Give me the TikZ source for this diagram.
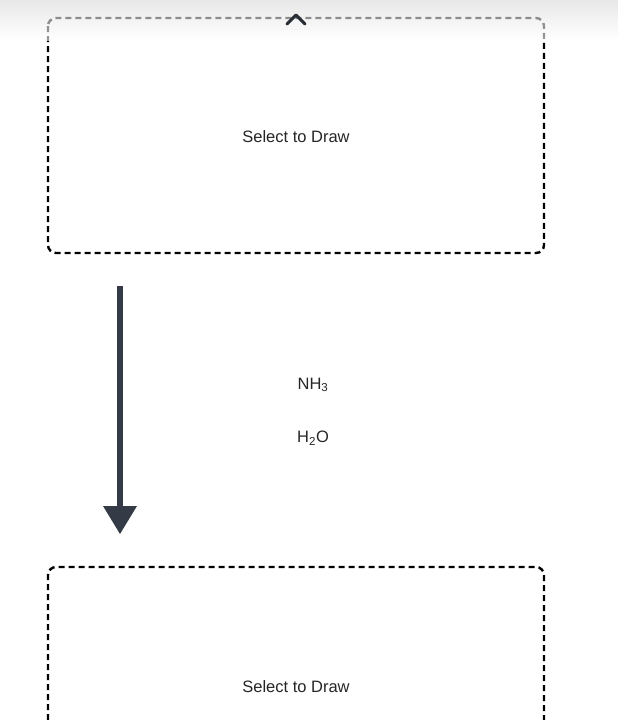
\documentclass[tikz,border=0pt]{standalone}
\usepackage{fontspec}
\setmainfont{Liberation Sans}
\begin{document}
\begin{tikzpicture}[x=1pt,y=-1pt,
  box/.style={draw=black,line width=2.4pt,dash pattern=on 6pt off 4pt,rounded corners=8pt},
  lbl/.style={font=\fontsize{16.5}{19}\selectfont,text=black!85}]
\useasboundingbox (0,0) rectangle (618,720);
\draw[box] (48,18) rectangle (544,253);
\draw[box] (48,740) -- (48,567) -- (544,567) -- (544,740);
\node[lbl] (t1) at (296,137) {Select to Draw};
\node[lbl] (t2) at (296,687) {Select to Draw};
\node[lbl] (n) at (313,385) {NH\textsubscript{3}};
\node[lbl] (h) at (313,438) {H\textsubscript{2}O};
\coordinate (a1) at (120,286);
\coordinate (a2) at (120,510);
\coordinate (a3) at (120,534);
\draw[line width=6pt,color={rgb,255:red,52;green,58;blue,70}] (a1) -- (a2);
\fill[color={rgb,255:red,52;green,58;blue,70}] (103,506) -- (137,506) -- (a3) -- cycle;
\shade[top color=gray!30,bottom color=white,fill opacity=0.6] (0,0) rectangle (618,40);
\coordinate (c) at (296,15);
\draw[line width=3pt,color={rgb,255:red,40;green,44;blue,52},line cap=round,line join=round] (287,24) -- (c) -- (305,24);
\end{tikzpicture}
\end{document}
